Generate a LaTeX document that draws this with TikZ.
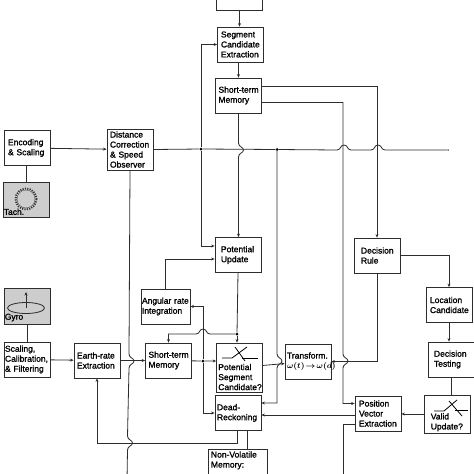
\documentclass[tikz,border=0pt]{standalone}
\usepackage{fontspec}
\setmainfont{Liberation Sans}
\newfontfamily\boxfont{Liberation Sans}[FakeBold=1.2]
\usetikzlibrary{arrows.meta, calc}
\definecolor{wireline}{RGB}{45,45,45}
\definecolor{sensorbg}{RGB}{205,205,205}
\newcommand{\boxtype}{\boxfont\fontsize{8.5}{10}\selectfont\hyphenpenalty10000 \exhyphenpenalty10000 }
\tikzset{
  block/.style={rectangle, draw=wireline, fill=white, line width=0.8pt, inner xsep=3pt, inner ysep=2pt,
    minimum width=#1, text width=#1-6pt, minimum height=35pt, align=left, font=\boxtype},
  block/.default=46pt,
  inset/.style={inner xsep=#1, text width=46pt-2*#1},
  sensor/.style={rectangle, draw=wireline, fill=sensorbg, line width=0.8pt,
    minimum width=46pt, minimum height=35.5pt},
  senselab/.style={inner xsep=1pt, inner ysep=3pt, align=left, font=\boxtype},
  arr/.style={-{Stealth[length=3.5pt, width=3pt]}, line width=0.8pt, wireline},
  rarr/.style={{Stealth[length=3.5pt, width=3pt]}-, line width=0.8pt, wireline},
  wire/.style={line width=0.8pt, wireline},
  joint/.style={circle, fill=black, inner sep=0pt, minimum size=3pt},
  switchline/.style={line width=0.8pt, black},
}
% hop of a vertical wire, to the right
\newcommand{\vhop}[2]{-- (#1,#2-7) .. controls (#1,#2-3) and (#1+5,#2-3) .. (#1+5,#2) .. controls (#1+5,#2+3) and (#1,#2+3) .. (#1,#2+7)}
% hop of a horizontal wire, upwards
\newcommand{\hhop}[2]{-- (#1-7,#2) .. controls (#1-3,#2) and (#1-4,#2-5) .. (#1,#2-5) .. controls (#1+4,#2-5) and (#1+3,#2) .. (#1+7,#2)}
\begin{document}
\begin{tikzpicture}[x=1pt, y=-1pt]
\clip (0,0) rectangle (474,474);

% ── Left column ──
\node[block, inset=3.5pt] (enc) at (27.5,148) {Encoding\\\& Scaling};
\node[sensor] (tach) at (26,200) {};
\node[senselab, anchor=south west] (tachlab) at (tach.south west) {Tach.};
\node[block, minimum height=41pt] (dist) at (130,149.5) {Distance\\Correction\\\& Speed\\Observer};
\node[sensor] (gyro) at (27,306.5) {};
\node[senselab, anchor=south west] (gyrolab) at (gyro.south west) {Gyro};
\node[block, inset=1pt] (scale) at (27,359.5) {Scaling,\\Calibration,\\\& Filtering};
\node[block] (earth) at (97,360.5) {Earth-rate\\Extraction};

% ── Middle column ──
\node[block, inset=4pt] (tasks) at (239.5,-7.5) {\mbox{}\\Tasks};
\node[block, inset=3.5pt] (segex) at (240.5,44.5) {Segment\\Candidate\\Extraction};
\node[block] (stone) at (238.5,95.5) {Short-term\\Memory};
\node[block, inset=6pt] (potup) at (238,255) {Potential\\Update};
\node[block=49pt, inner xsep=1pt, text width=47pt] (angrate) at (165.5,306.5) {Angular rate\\Integration};
\node[block] (sttwo) at (168.5,360.5) {Short-term\\Memory};
\node[block, inset=2pt, minimum height=49pt] (potseg) at (239.5,367.5) {};
\node[senselab, inner xsep=2pt, inner ysep=2pt, anchor=south west] (potsegtext) at (potseg.south west) {Potential\\Segment\\Candidate?};
\node[block, inset=2pt] (dead) at (238,413) {Dead-\\Reckoning};
\node[block=59pt, minimum height=40pt, anchor=north] (nonvol) at (237.5,449) {Non-Volatile\\Memory:\\\mbox{}\\\mbox{}};

% ── Right column ──
\node[block, inset=2pt] (trans) at (308,361.5) {Transform.\\\mbox{\boldmath$\omega(t)\!\rightarrow\!\omega(d)$}};
\node[block, inset=7pt] (rule) at (377,255.5) {Decision\\Rule};
\node[block, inset=4pt] (posvec) at (378,413.5) {Position\\Vector\\Extraction};
\node[block, inset=4pt] (loc) at (449,305) {Location\\Candidate};
\node[block, inset=6pt] (test) at (451,359.5) {Decision\\Testing};
\node[block, inset=7pt, minimum height=38pt] (valid) at (447,414) {};
\node[senselab, inner xsep=7pt, inner ysep=2pt, anchor=south west] (validtext) at (valid.south west) {Valid\\Update?};

% ── Joints ──
\node[joint] (jleft) at (201,149) {};
\node[joint] (jright) at (277,149.5) {};
\node[joint, minimum size=1.5pt] (jend) at (448,150) {};
\node[joint] (jpot) at (237,334) {};
\node[joint] (jmem) at (203,361) {};
\coordinate (deadlow) at (237,443);
\coordinate (botleft) at (127,480);
\coordinate (botright) at (343,480);

% ── Sensor marks ──
\draw[line width=1.8pt, dash pattern=on 1.2pt off 1.2pt, black!80] (tach.center) ++(0,-1) circle (10.5);
\draw[line width=0.4pt, black!70] (tach.center) ++(0,-1) circle (9);
\draw[line width=0.8pt, wireline] (gyro.center) ++(-1,1.5) ellipse (18.5 and 5.5);
\draw[arr] (gyro.center) ++(-1,1.5) -- ++(0,-16);

% ── Arrows ──
\draw[wire] (tach.north) -- (tach.north |- enc.south);
\draw[wire] (gyro.south) -- (scale.north);
\draw[arr] (enc) -- (dist);
\draw[arr] (scale) -- (earth);
\draw[arr] (tasks.south) -- (tasks.south |- segex.north);
\draw[arr] (stone.north |- segex.south) -- (stone.north);
\draw[wire] (dist.east) -- (jleft) -- (jright) \hhop{344}{150} \hhop{378}{150} -- (jend);
\draw[arr] (jleft) |- (segex.west);
\draw[arr] (jleft) |- ([yshift=9pt]potup.west);
\draw[arr] (jright) \vhop{277}{361} |- ([yshift=10pt]dead.east);
\draw[arr] (stone.south) \vhop{238.5}{150} -- (potup.north -| stone);
\draw[arr] ([yshift=9pt]stone.east) -| (rule.north);
\draw[arr] ([yshift=-7pt]stone.east) -| (343,138) \vhop{343}{361} |- ([yshift=10pt]posvec.west);
\draw[wire] (potup.south) -- (jpot);
\draw[arr] (jpot) -- (jpot |- potseg.north);
\draw[rarr] (sttwo.north) -- (sttwo.north |- jpot) \hhop{203}{334} -- (jpot);
\draw[arr] (angrate.north) |- ([yshift=-4pt]potup.west);
\draw[arr] (sttwo) -- (jmem) -- (jmem -| potseg.west);
\draw[arr] (jmem) |- (angrate.east);
\draw[arr] (jmem) |- (dead.west);
\draw[arr] (earth) -- (sttwo);
\draw[wire] (dist.south) \vhop{129}{361} \vhop{127.5}{443} -- (botleft);
\draw[rarr] (earth.south) |- (deadlow) -- (deadlow |- dead.south);
\draw[wire] ([xshift=9pt]dead.south) -- ([xshift=9pt]dead.south |- nonvol.north);
\draw[arr] (potseg) -- (trans);
\draw[arr] (rule.south) |- (trans.east);
\draw[arr] (rule.east) -| (loc.north);
\draw[arr] (loc.south) -- (loc.south |- test.north);
\draw[wire] (test.south) -- (test.south |- valid.north);
\draw[arr] (valid.west) -- (valid.west -| posvec.east);
\draw[arr] ([yshift=-1.5pt]posvec.west) -- ([yshift=-1.5pt]posvec.west -| dead.east);
\draw[wire] ([yshift=-11pt]posvec.west) -| (botright);

% ── Switch marks ──
\draw[switchline] (222,358) -- (232,358) -- (247,347);
\draw[switchline] (235,347) -- (245,361);
\draw[switchline] (242,358) -- (258,358);
\draw[switchline] (434,411) -- (444,411) -- (457,400);
\draw[switchline] (449,401) -- (462,416);
\draw[switchline] (455,410) -- (468,410);

\end{tikzpicture}
\end{document}
